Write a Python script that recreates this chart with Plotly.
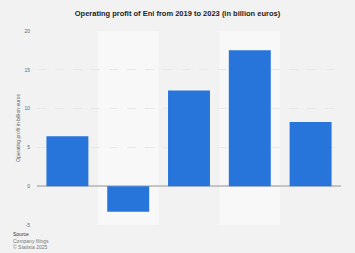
import plotly.graph_objects as go

years = ["2019", "2020", "2021", "2022", "2023"]
profit = [6.43, -3.28, 12.34, 17.51, 8.26]
y_ticks = [-5, 0, 5, 10, 15, 20]

fig = go.Figure()
fig.add_trace(go.Bar(
    x=years, y=profit,
    marker=dict(color="#2775db", line=dict(width=0)),
    width=0.69,
))

shapes = []
for i, yr in enumerate(years):
    if i % 2 == 1:
        shapes.append(dict(type="rect", xref="x", yref="y",
                           x0=i - 0.5, x1=i + 0.5, y0=-5, y1=20.2,
                           fillcolor="#f8f8f8", line=dict(width=0), layer="below"))

fig.update_layout(
    width=355, height=253,
    margin=dict(l=37, r=14, t=31, b=28),
    paper_bgcolor="#f2f2f2", plot_bgcolor="#f2f2f2",
    shapes=shapes,
    showlegend=False,
    title=dict(text="<b>Operating profit of Eni from 2019 to 2023 (in billion euros)</b>",
               x=0.5, xanchor="center", y=0.948, yanchor="middle",
               font=dict(family="Liberation Sans, Arial, sans-serif", size=7.5, color="#222222")),
    xaxis=dict(showticklabels=False, showgrid=False, zeroline=False, showline=False,
               ticks="", range=[-0.5, 4.5]),
    yaxis=dict(range=[-5, 20], tickvals=y_ticks, ticktext=[str(v) for v in y_ticks],
               showgrid=True, gridcolor="#e8e8e8", gridwidth=1, griddash="dash",
               zeroline=True, zerolinecolor="#c4c4c4", zerolinewidth=1.5,
               showline=False, ticks="", ticklabelstandoff=6,
               tickfont=dict(family="Liberation Sans, Arial, sans-serif", size=5, color="#666666"),
               title=dict(text="Operating profit in billion euros", standoff=3,
                          font=dict(family="Liberation Sans, Arial, sans-serif", size=5, color="#666666"))),
)

fig.add_annotation(text="Source<br><span style='color:#777777'>Company filings<br>© Statista 2025</span>",
                   xref="paper", yref="paper", x=-0.085, y=-0.02, xanchor="left", yanchor="top",
                   align="left", showarrow=False,
                   font=dict(family="Liberation Sans, Arial, sans-serif", size=5, color="#333333"))

fig.write_html("out.html")
